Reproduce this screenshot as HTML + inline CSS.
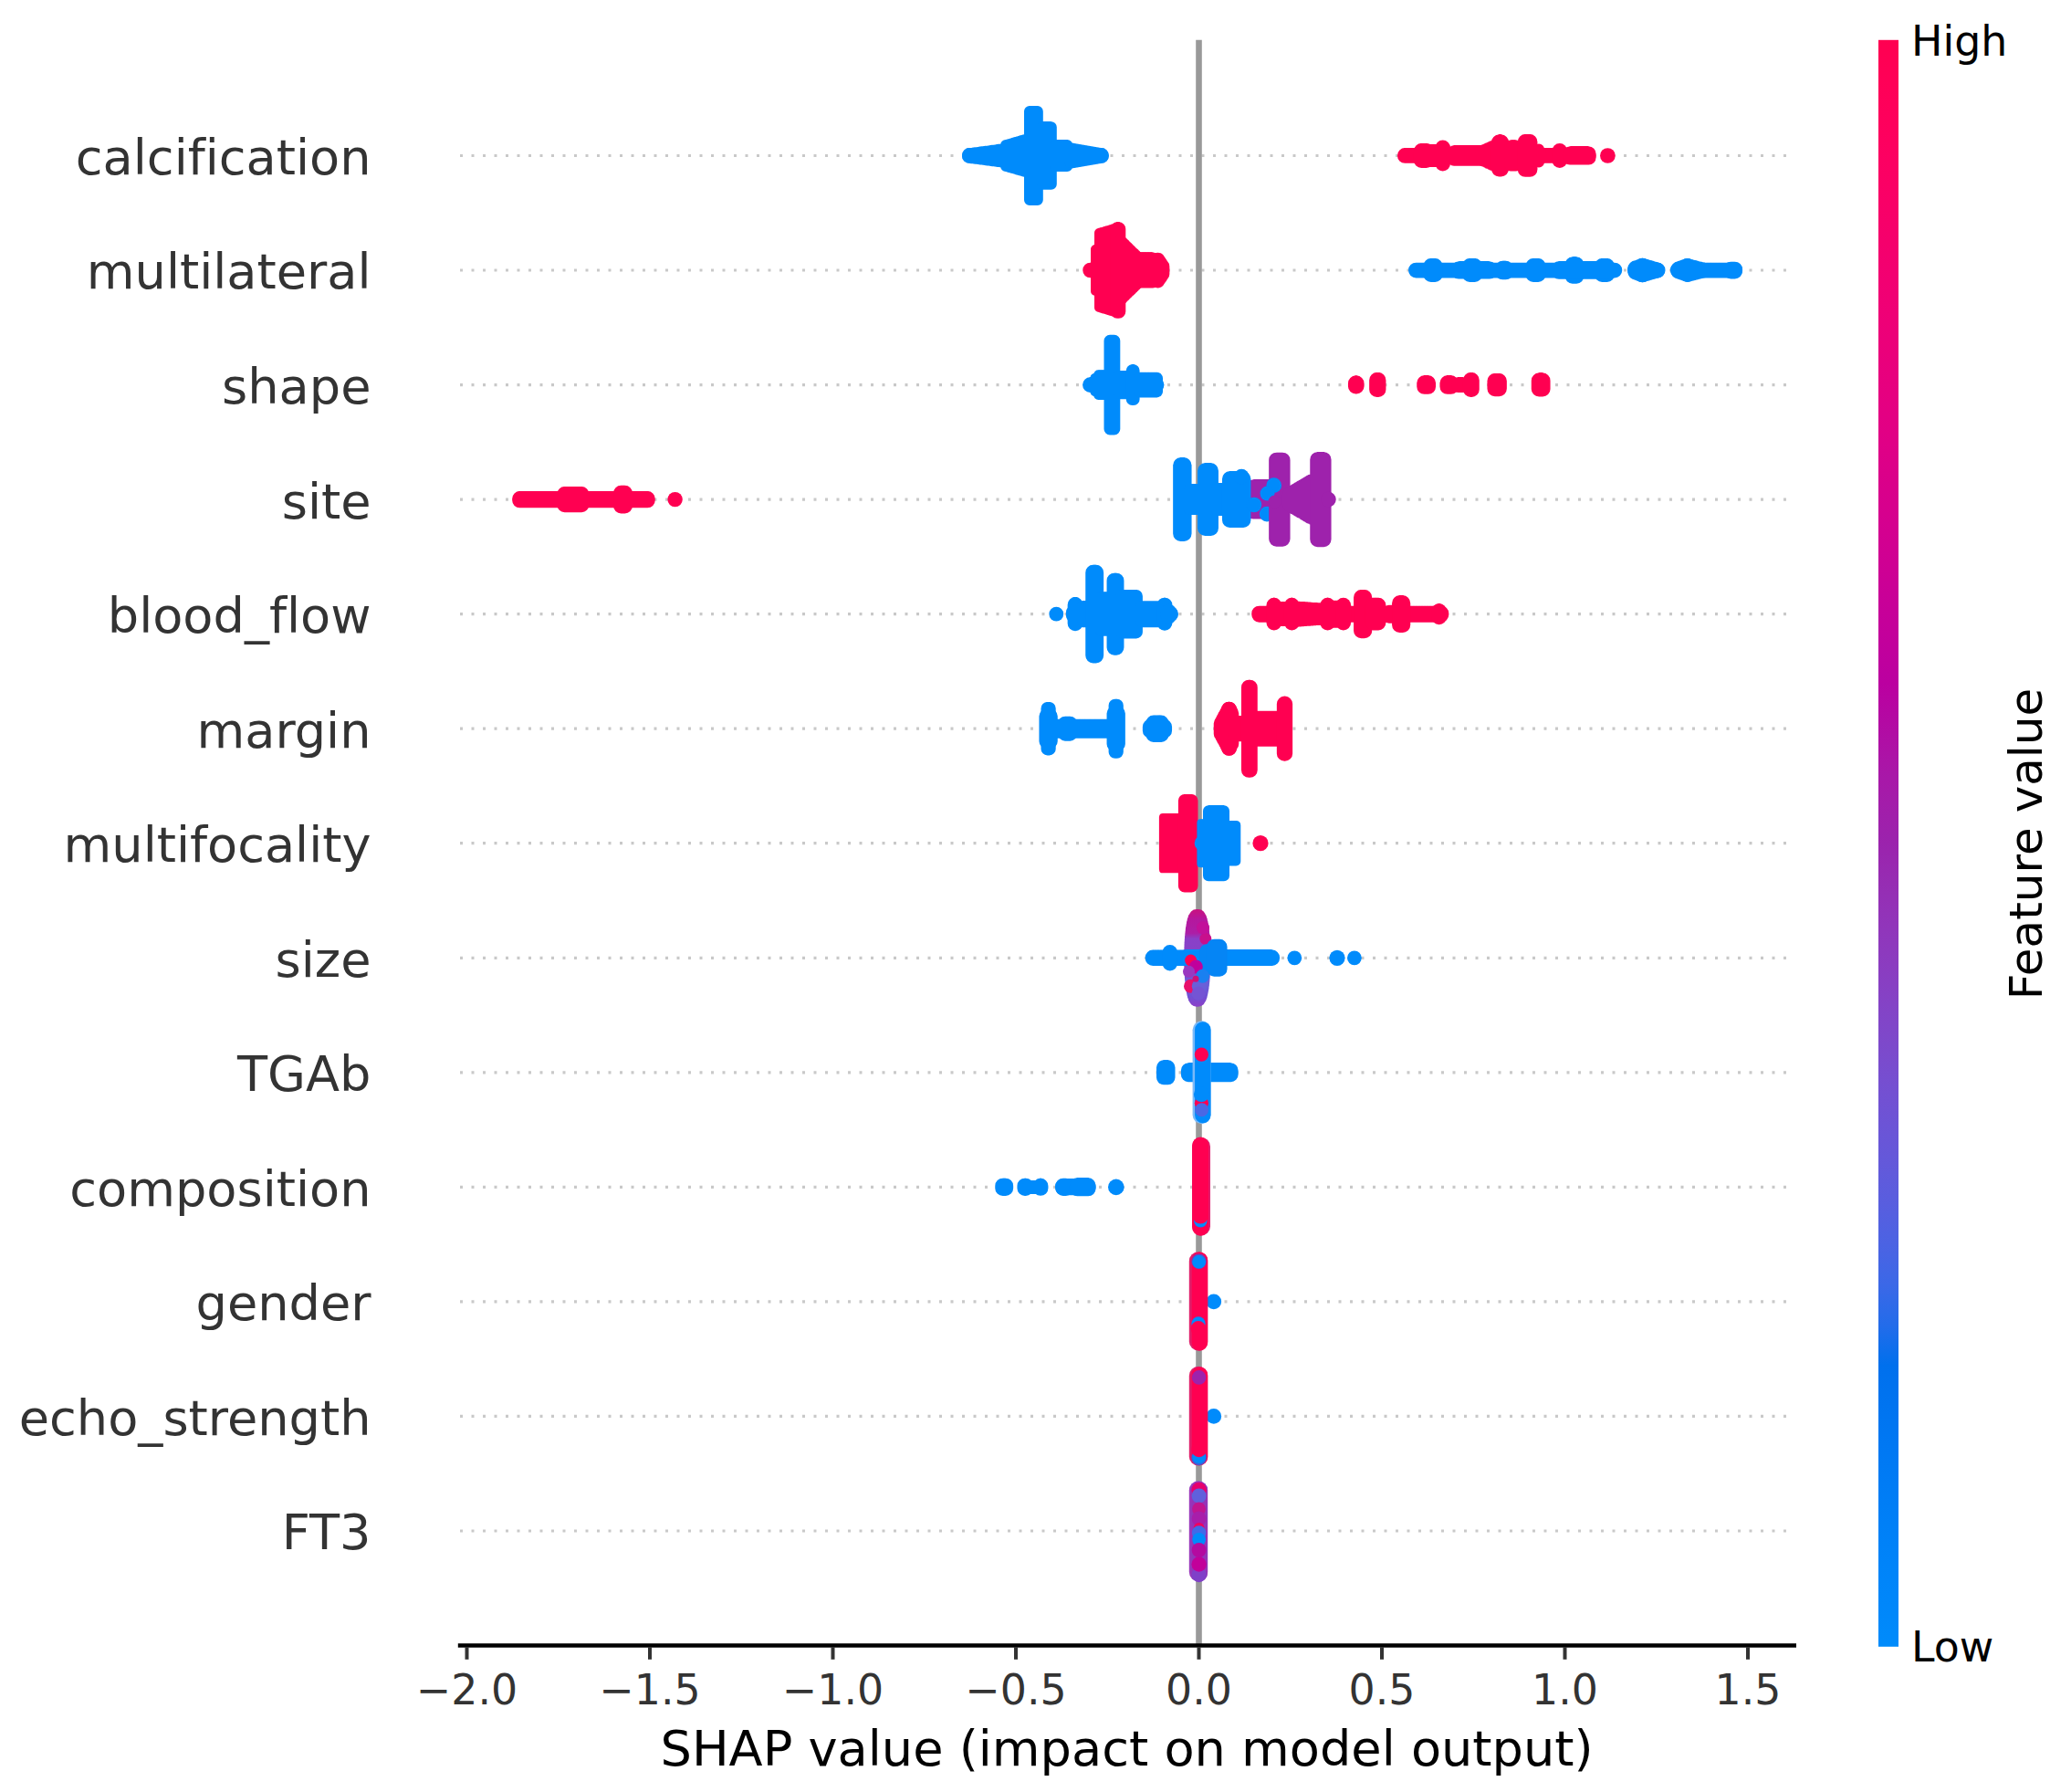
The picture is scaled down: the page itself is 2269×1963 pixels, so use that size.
<!DOCTYPE html>
<html lang="en"><head><meta charset="utf-8"><title>SHAP summary plot</title>
<style>html,body{margin:0;padding:0;background:#fff}svg{display:block}</style></head>
<body>
<svg width="2269" height="1963" viewBox="0 0 2269 1963" font-family="'DejaVu Sans','Liberation Sans',sans-serif" style="font-variant-ligatures:none;font-feature-settings:'liga' 0,'clig' 0">
<rect width="2269" height="1963" fill="#ffffff"/>
<defs><linearGradient id="cb" x1="0" y1="0" x2="0" y2="1"><stop offset="0.0000" stop-color="#ff0051"/><stop offset="0.0250" stop-color="#ff0057"/><stop offset="0.0500" stop-color="#fe005c"/><stop offset="0.0750" stop-color="#fc0062"/><stop offset="0.1000" stop-color="#f90067"/><stop offset="0.1250" stop-color="#f5006c"/><stop offset="0.1500" stop-color="#f20072"/><stop offset="0.1750" stop-color="#ee0077"/><stop offset="0.2000" stop-color="#e9007c"/><stop offset="0.2250" stop-color="#e50081"/><stop offset="0.2500" stop-color="#e00086"/><stop offset="0.2750" stop-color="#da008a"/><stop offset="0.3000" stop-color="#d5008f"/><stop offset="0.3250" stop-color="#cf0093"/><stop offset="0.3500" stop-color="#c80098"/><stop offset="0.3750" stop-color="#c2009c"/><stop offset="0.4000" stop-color="#bb00a0"/><stop offset="0.4250" stop-color="#b30aa3"/><stop offset="0.4500" stop-color="#ab15a7"/><stop offset="0.4750" stop-color="#a31daa"/><stop offset="0.5000" stop-color="#9b23ad"/><stop offset="0.5250" stop-color="#962db3"/><stop offset="0.5500" stop-color="#9135ba"/><stop offset="0.5750" stop-color="#8b3cc0"/><stop offset="0.6000" stop-color="#8443c6"/><stop offset="0.6250" stop-color="#7d49cb"/><stop offset="0.6500" stop-color="#754fd1"/><stop offset="0.6750" stop-color="#6c54d6"/><stop offset="0.7000" stop-color="#6359da"/><stop offset="0.7250" stop-color="#585edf"/><stop offset="0.7500" stop-color="#4b63e3"/><stop offset="0.7750" stop-color="#3b68e7"/><stop offset="0.8000" stop-color="#236cea"/><stop offset="0.8250" stop-color="#0070ed"/><stop offset="0.8500" stop-color="#0074f0"/><stop offset="0.8750" stop-color="#0078f3"/><stop offset="0.9000" stop-color="#007cf5"/><stop offset="0.9250" stop-color="#0080f7"/><stop offset="0.9500" stop-color="#0084f9"/><stop offset="0.9750" stop-color="#0087fa"/><stop offset="1.0000" stop-color="#008bfb"/></linearGradient></defs>
<g stroke="#c9c9c9" stroke-width="3.2" stroke-dasharray="3 9.5" fill="none">
<path d="M504 170.5H1957"/>
<path d="M504 296.0H1957"/>
<path d="M504 421.6H1957"/>
<path d="M504 547.1H1957"/>
<path d="M504 672.7H1957"/>
<path d="M504 798.2H1957"/>
<path d="M504 923.7H1957"/>
<path d="M504 1049.3H1957"/>
<path d="M504 1174.8H1957"/>
<path d="M504 1300.4H1957"/>
<path d="M504 1425.9H1957"/>
<path d="M504 1551.4H1957"/>
<path d="M504 1677.0H1957"/>
</g>
<path d="M1313.5 43.8V1802" stroke="#999999" stroke-width="6.6" fill="none"/>
<g>
<path d="M1062.3 170.4v0.10M1063.8 170.4v0.10M1065.3 170.4v0.10M1066.8 170.4v0.10M1068.3 170.4v0.10M1069.8 170.4v0.10M1071.3 170.4v0.10M1072.7 170.4v0.10M1074.2 170.4v0.10M1075.7 170.4v0.10M1077.2 170.4v0.10M1078.7 170.4v0.10M1080.2 170.4v0.10M1081.7 170.4v0.10M1083.1 170.4v0.10M1084.6 170.4v0.10M1086.1 170.4v0.10M1087.6 170.4v0.10M1089.1 170.4v0.10M1090.6 170.4v0.10M1092.1 170.4v0.10M1093.5 170.4v0.10M1095.0 170.4v0.10M1096.5 170.4v0.10M1098.0 170.4v0.10M1099.5 170.4v0.10M1101.0 170.4v0.10M1102.5 170.4v0.10M1103.9 170.4v0.10M1105.4 170.4v0.10M1106.9 170.4v0.10M1108.4 170.4v0.10M1109.9 170.4v0.10M1111.4 170.4v0.10M1112.9 170.4v0.10M1114.3 170.4v0.10M1115.8 170.4v0.10M1117.3 170.4v0.10M1118.8 170.4v0.10M1120.3 170.4v0.10M1121.8 170.4v0.10M1123.3 170.4v0.10M1124.7 170.4v0.10M1126.2 170.4v0.10M1127.7 170.4v0.10M1129.2 170.4v0.10M1130.7 170.4v0.10M1132.2 170.4v0.10M1133.7 170.4v0.10M1135.1 170.4v0.10M1136.6 170.4v0.10M1138.1 170.4v0.10M1139.6 170.4v0.10M1141.1 170.4v0.10M1142.6 170.4v0.10M1144.1 170.4v0.10M1145.5 170.4v0.10M1147.0 170.4v0.10M1148.5 170.4v0.10M1150.0 170.4v0.10M1151.5 170.4v0.10M1153.0 170.4v0.10M1154.5 170.4v0.10M1155.9 170.4v0.10M1157.4 170.4v0.10M1158.9 170.4v0.10M1160.4 170.4v0.10M1161.9 170.4v0.10M1163.4 170.4v0.10M1164.9 170.4v0.10M1166.3 170.4v0.10M1167.8 170.4v0.10M1169.3 170.4v0.10M1170.8 170.4v0.10M1172.3 170.4v0.10M1173.8 170.4v0.10M1175.3 170.4v0.10M1176.7 170.4v0.10M1178.2 170.4v0.10M1179.7 170.4v0.10M1181.2 170.4v0.10M1182.7 170.4v0.10M1184.2 170.4v0.10M1185.7 170.4v0.10M1187.1 170.4v0.10M1188.6 170.4v0.10M1190.1 170.4v0.10M1191.6 170.4v0.10M1193.1 170.4v0.10M1194.6 170.4v0.10M1196.1 170.4v0.10M1197.5 170.4v0.10M1199.0 170.4v0.10M1200.5 170.4v0.10M1202.0 170.4v0.10M1203.5 170.4v0.10M1205.0 170.4v0.10M1206.5 170.4v0.10" stroke="#008bfb" stroke-width="16.70" stroke-linecap="round" fill="none"/>
<path d="M1062.3 170.4v0.10M1063.8 170.3v0.48M1065.2 170.1v0.87M1066.7 169.9v1.25M1068.1 169.7v1.63M1069.6 169.5v2.01M1071.0 169.3v2.40M1072.5 169.1v2.78M1073.9 168.9v3.16M1075.4 168.7v3.54M1076.8 168.5v3.93M1078.3 168.3v4.31M1079.7 168.2v4.69M1081.2 168.0v5.07M1082.6 167.8v5.46M1084.1 167.6v5.84M1085.5 167.4v6.22M1087.0 167.2v6.60M1088.4 167.0v6.99M1089.9 166.8v7.37M1091.3 166.6v7.75M1092.8 166.4v8.13M1094.2 166.2v8.52M1095.7 166.1v8.90" stroke="#008bfb" stroke-width="16.70" stroke-linecap="round" fill="none"/>
<path d="M1102.0 159.1v22.80M1103.4 158.7v23.63M1104.9 158.3v24.46M1106.3 157.9v25.29M1107.7 157.4v26.11M1109.1 157.0v26.94M1110.6 156.6v27.77M1112.0 156.2v28.60M1113.4 155.8v29.43M1114.9 155.4v30.26M1116.3 155.0v31.09M1117.7 154.5v31.91M1119.1 154.1v32.74M1120.6 153.7v33.57M1122.0 153.3v34.40" stroke="#008bfb" stroke-width="12.00" stroke-linecap="round" fill="none"/>
<path d="M1128.0 121.9v97.20M1129.5 121.9v97.20M1130.9 121.9v97.20M1132.4 121.9v97.20M1133.9 121.9v97.20M1135.3 121.9v97.20M1136.8 121.9v97.20" stroke="#008bfb" stroke-width="12.00" stroke-linecap="round" fill="none"/>
<path d="M1142.0 139.3v62.40M1143.4 139.3v62.40M1144.8 139.3v62.40M1146.2 139.3v62.40M1147.6 139.3v62.40M1149.0 139.3v62.40M1150.4 139.3v62.40M1151.8 139.3v62.40" stroke="#008bfb" stroke-width="12.00" stroke-linecap="round" fill="none"/>
<path d="M1156.0 158.9v23.20M1157.5 158.9v23.20M1158.9 158.9v23.20M1160.4 158.9v23.20M1161.9 158.9v23.20M1163.3 158.9v23.20M1164.8 158.9v23.20M1166.3 158.9v23.20M1167.7 158.9v23.20M1169.2 158.9v23.20" stroke="#008bfb" stroke-width="12.00" stroke-linecap="round" fill="none"/>
<path d="M1174.3 164.8v11.30M1175.8 165.1v10.79M1177.3 165.4v10.28M1178.7 165.6v9.77M1180.2 165.9v9.26M1181.6 166.1v8.75M1183.1 166.4v8.25M1184.6 166.6v7.74M1186.0 166.9v7.23M1187.5 167.1v6.72M1188.9 167.4v6.21M1190.4 167.7v5.70M1191.9 167.9v5.19M1193.3 168.2v4.68M1194.8 168.4v4.17M1196.2 168.7v3.66M1197.7 168.9v3.15M1199.2 169.2v2.65M1200.6 169.4v2.14M1202.1 169.7v1.63M1203.5 169.9v1.12M1205.0 170.2v0.61M1206.5 170.4v0.10" stroke="#008bfb" stroke-width="16.70" stroke-linecap="round" fill="none"/>
<path d="M1539.3 170.4v0.10M1540.8 170.4v0.10M1542.3 170.4v0.10M1543.8 170.4v0.10M1545.3 170.4v0.10M1546.8 170.4v0.10M1548.3 170.4v0.10M1549.8 170.4v0.10M1551.3 170.4v0.10M1552.8 170.4v0.10M1554.3 170.4v0.10M1555.8 170.4v0.10M1557.3 170.4v0.10M1558.8 170.4v0.10M1560.3 170.4v0.10M1561.8 170.4v0.10M1563.3 170.4v0.10M1564.8 170.4v0.10M1566.3 170.4v0.10M1567.8 170.4v0.10M1569.3 170.4v0.10M1570.8 170.4v0.10M1572.3 170.4v0.10M1573.8 170.4v0.10M1575.3 170.4v0.10M1576.8 170.4v0.10M1578.3 170.4v0.10M1579.8 170.4v0.10M1581.3 170.4v0.10M1582.8 170.4v0.10M1584.3 170.4v0.10M1585.8 170.4v0.10M1587.3 170.4v0.10M1588.8 170.4v0.10M1590.3 170.4v0.10M1591.8 170.4v0.10M1593.3 170.4v0.10M1594.8 170.4v0.10M1596.3 170.4v0.10M1597.8 170.4v0.10M1599.3 170.4v0.10M1600.8 170.4v0.10M1602.3 170.4v0.10M1603.8 170.4v0.10M1605.3 170.4v0.10M1606.8 170.4v0.10M1608.3 170.4v0.10M1609.8 170.4v0.10M1611.3 170.4v0.10M1612.8 170.4v0.10M1614.3 170.4v0.10M1615.8 170.4v0.10M1617.3 170.4v0.10M1618.8 170.4v0.10M1620.3 170.4v0.10M1621.8 170.4v0.10M1623.3 170.4v0.10M1624.8 170.4v0.10M1626.3 170.4v0.10M1627.8 170.4v0.10M1629.3 170.4v0.10M1630.8 170.4v0.10M1632.3 170.4v0.10M1633.8 170.4v0.10M1635.3 170.4v0.10M1636.8 170.4v0.10M1638.3 170.4v0.10M1639.8 170.4v0.10M1641.3 170.4v0.10M1642.8 170.4v0.10M1644.3 170.4v0.10M1645.8 170.4v0.10M1647.3 170.4v0.10M1648.8 170.4v0.10M1650.3 170.4v0.10M1651.8 170.4v0.10M1653.3 170.4v0.10M1654.8 170.4v0.10M1656.3 170.4v0.10M1657.8 170.4v0.10M1659.3 170.4v0.10M1660.8 170.4v0.10M1662.3 170.4v0.10M1663.8 170.4v0.10M1665.3 170.4v0.10M1666.8 170.4v0.10M1668.3 170.4v0.10M1669.8 170.4v0.10M1671.3 170.4v0.10M1672.8 170.4v0.10M1674.3 170.4v0.10M1675.8 170.4v0.10M1677.3 170.4v0.10M1678.8 170.4v0.10M1680.3 170.4v0.10M1681.8 170.4v0.10M1683.3 170.4v0.10M1684.8 170.4v0.10M1686.3 170.4v0.10M1687.8 170.4v0.10M1689.3 170.4v0.10M1690.8 170.4v0.10M1692.3 170.4v0.10M1693.8 170.4v0.10M1695.3 170.4v0.10M1696.8 170.4v0.10M1698.3 170.4v0.10M1699.8 170.4v0.10M1701.3 170.4v0.10M1702.8 170.4v0.10M1704.3 170.4v0.10M1705.8 170.4v0.10M1707.3 170.4v0.10M1708.8 170.4v0.10M1710.3 170.4v0.10M1711.8 170.4v0.10M1713.3 170.4v0.10M1714.8 170.4v0.10M1716.3 170.4v0.10M1717.8 170.4v0.10M1719.3 170.4v0.10M1720.8 170.4v0.10M1722.3 170.4v0.10M1723.8 170.4v0.10M1725.3 170.4v0.10M1726.8 170.4v0.10M1728.3 170.4v0.10M1729.8 170.4v0.10M1731.3 170.4v0.10M1732.8 170.4v0.10M1734.3 170.4v0.10M1735.8 170.4v0.10M1737.3 170.4v0.10M1738.8 170.4v0.10M1740.2 170.4v0.10" stroke="#ff0051" stroke-width="16.70" stroke-linecap="round" fill="none"/>
<path d="M1557.3 165.3v10.30M1558.7 165.3v10.30M1560.0 165.3v10.30M1561.3 165.3v10.30M1562.7 165.3v10.30" stroke="#ff0051" stroke-width="16.70" stroke-linecap="round" fill="none"/>
<path d="M1580.7 161.8v17.30" stroke="#ff0051" stroke-width="16.70" stroke-linecap="round" fill="none"/>
<path d="M1565.0 165.0v11.00M1566.5 165.0v11.00M1568.0 165.0v11.00M1569.5 165.0v11.00M1571.0 165.0v11.00M1572.5 165.0v11.00M1574.0 165.0v11.00M1575.5 165.0v11.00M1577.0 165.0v11.00" stroke="#ff0051" stroke-width="14.00" stroke-linecap="round" fill="none"/>
<path d="M1593.0 166.2v8.60M1594.5 166.2v8.60M1596.0 166.2v8.60M1597.5 166.2v8.60M1599.0 166.2v8.60M1600.5 166.2v8.60M1602.0 166.2v8.60M1603.5 166.2v8.60M1605.0 166.2v8.60M1606.5 166.2v8.60M1608.0 166.2v8.60M1609.5 166.2v8.60M1611.0 166.2v8.60M1612.5 166.2v8.60M1614.0 166.2v8.60M1615.5 166.2v8.60M1617.0 166.2v8.60M1618.5 166.2v8.60M1620.0 166.2v8.60M1621.5 166.2v8.60M1623.0 166.2v8.60M1624.5 166.2v8.60M1626.0 166.2v8.60M1627.5 166.2v8.60M1629.0 166.2v8.60" stroke="#ff0051" stroke-width="14.00" stroke-linecap="round" fill="none"/>
<path d="M1623.0 166.5v8.00M1624.5 165.8v9.38M1626.0 165.1v10.75M1627.5 164.4v12.12M1629.0 163.8v13.50M1630.5 163.1v14.88M1632.0 162.4v16.25M1633.5 161.7v17.62M1635.0 161.0v19.00" stroke="#ff0051" stroke-width="14.00" stroke-linecap="round" fill="none"/>
<path d="M1642.3 155.8v29.30M1643.5 155.8v29.30M1644.7 155.8v29.30" stroke="#ff0051" stroke-width="16.70" stroke-linecap="round" fill="none"/>
<path d="M1655.0 160.5v20.00M1656.5 160.5v20.00M1658.0 160.5v20.00M1659.5 160.5v20.00M1661.0 160.5v20.00" stroke="#ff0051" stroke-width="14.00" stroke-linecap="round" fill="none"/>
<path d="M1671.1 155.4v30.10M1672.4 155.4v30.10M1673.6 155.4v30.10M1674.8 155.4v30.10M1676.1 155.4v30.10" stroke="#ff0051" stroke-width="16.70" stroke-linecap="round" fill="none"/>
<path d="M1686.0 163.5v14.00M1687.0 165.5v10.00M1688.0 167.5v6.00" stroke="#ff0051" stroke-width="12.00" stroke-linecap="round" fill="none"/>
<path d="M1708.8 165.3v10.30" stroke="#ff0051" stroke-width="16.70" stroke-linecap="round" fill="none"/>
<path d="M1720.0 168.5v4.00M1721.5 168.5v4.00M1722.9 168.5v4.00M1724.4 168.5v4.00M1725.9 168.5v4.00M1727.4 168.5v4.00M1728.8 168.5v4.00M1730.3 168.5v4.00M1731.8 168.5v4.00M1733.2 168.5v4.00M1734.7 168.5v4.00M1736.2 168.5v4.00M1737.7 168.5v4.00M1739.1 168.5v4.00M1740.6 168.5v4.00" stroke="#ff0051" stroke-width="16.00" stroke-linecap="round" fill="none"/>
<circle cx="1761.4" cy="170.5" r="8.35" fill="#ff0051"/>
<path d="M1194.6 296.0v0.01M1195.6 296.0v0.01M1196.7 296.0v0.01M1197.7 296.0v0.01" stroke="#ff0051" stroke-width="16.70" stroke-linecap="round" fill="none"/>
<path d="M1200.0 273.1v45.80M1201.4 273.1v45.80M1202.9 273.1v45.80M1204.3 273.1v45.80M1205.7 273.1v45.80M1207.1 273.1v45.80M1208.6 273.1v45.80M1210.0 273.1v45.80" stroke="#ff0051" stroke-width="10.00" stroke-linecap="round" fill="none"/>
<path d="M1204.0 255.0v82.00M1205.5 254.6v82.90M1207.0 254.1v83.80M1208.5 253.7v84.70M1210.0 253.2v85.60M1211.5 252.8v86.50M1213.0 252.3v87.40M1214.5 251.9v88.30M1216.0 251.4v89.20M1217.5 251.0v90.10M1219.0 250.5v91.00" stroke="#ff0051" stroke-width="10.00" stroke-linecap="round" fill="none"/>
<path d="M1224.0 250.7v90.60M1224.9 250.7v90.60M1225.8 250.7v90.60" stroke="#ff0051" stroke-width="15.00" stroke-linecap="round" fill="none"/>
<path d="M1227.0 261.0v70.00M1228.5 262.5v67.07M1230.0 264.0v64.14M1231.5 265.4v61.21M1233.0 266.9v58.29M1234.5 268.4v55.36M1236.0 269.8v52.43M1237.5 271.3v49.50M1239.0 272.8v46.57M1240.5 274.2v43.64M1242.0 275.7v40.71M1243.5 277.1v37.79M1245.0 278.6v34.86M1246.5 280.1v31.93M1248.0 281.5v29.00" stroke="#ff0051" stroke-width="10.00" stroke-linecap="round" fill="none"/>
<path d="M1247.0 283.5v25.00M1248.5 283.5v25.00M1249.9 283.5v25.00M1251.4 283.5v25.00M1252.8 283.5v25.00M1254.3 283.5v25.00M1255.7 283.5v25.00M1257.2 283.5v25.00M1258.6 283.5v25.00M1260.1 283.5v25.00M1261.5 283.5v25.00M1263.0 283.5v25.00" stroke="#ff0051" stroke-width="14.00" stroke-linecap="round" fill="none"/>
<path d="M1268.3 285.0v22.10M1269.5 286.7v18.65M1270.7 288.4v15.20M1271.8 290.2v11.75M1273.0 291.9v8.30" stroke="#ff0051" stroke-width="16.70" stroke-linecap="round" fill="none"/>
<path d="M1551.4 296.0v0.10M1552.9 296.0v0.10M1554.4 296.0v0.10M1555.9 296.0v0.10M1557.4 296.0v0.10M1558.9 296.0v0.10M1560.4 296.0v0.10M1561.9 296.0v0.10M1563.4 296.0v0.10M1564.9 296.0v0.10M1566.4 296.0v0.10M1567.9 296.0v0.10M1569.4 296.0v0.10M1570.9 296.0v0.10M1572.4 296.0v0.10M1573.9 296.0v0.10M1575.4 296.0v0.10M1576.9 296.0v0.10M1578.4 296.0v0.10M1579.9 296.0v0.10M1581.4 296.0v0.10M1582.9 296.0v0.10M1584.4 296.0v0.10M1585.9 296.0v0.10M1587.4 296.0v0.10M1588.9 296.0v0.10M1590.4 296.0v0.10M1591.9 296.0v0.10M1593.4 296.0v0.10M1594.9 296.0v0.10M1596.4 296.0v0.10M1597.9 296.0v0.10M1599.4 296.0v0.10M1600.9 296.0v0.10M1602.4 296.0v0.10M1603.9 296.0v0.10M1605.4 296.0v0.10M1606.9 296.0v0.10M1608.4 296.0v0.10M1609.9 296.0v0.10M1611.4 296.0v0.10M1612.9 296.0v0.10M1614.4 296.0v0.10M1615.9 296.0v0.10M1617.4 296.0v0.10M1618.9 296.0v0.10M1620.4 296.0v0.10M1621.9 296.0v0.10M1623.4 296.0v0.10M1624.9 296.0v0.10M1626.4 296.0v0.10M1627.9 296.0v0.10M1629.4 296.0v0.10M1630.9 296.0v0.10M1632.4 296.0v0.10M1633.9 296.0v0.10M1635.4 296.0v0.10M1636.9 296.0v0.10M1638.4 296.0v0.10M1639.9 296.0v0.10M1641.4 296.0v0.10M1642.9 296.0v0.10M1644.4 296.0v0.10M1645.9 296.0v0.10M1647.4 296.0v0.10M1648.9 296.0v0.10M1650.4 296.0v0.10M1651.9 296.0v0.10M1653.4 296.0v0.10M1654.9 296.0v0.10M1656.4 296.0v0.10M1657.9 296.0v0.10M1659.4 296.0v0.10M1660.9 296.0v0.10M1662.4 296.0v0.10M1663.9 296.0v0.10M1665.4 296.0v0.10M1666.9 296.0v0.10M1668.4 296.0v0.10M1669.9 296.0v0.10M1671.4 296.0v0.10M1672.9 296.0v0.10M1674.4 296.0v0.10M1675.9 296.0v0.10M1677.4 296.0v0.10M1678.9 296.0v0.10M1680.4 296.0v0.10M1681.9 296.0v0.10M1683.4 296.0v0.10M1684.9 296.0v0.10M1686.4 296.0v0.10M1687.9 296.0v0.10M1689.4 296.0v0.10M1690.9 296.0v0.10M1692.4 296.0v0.10M1693.9 296.0v0.10M1695.4 296.0v0.10M1696.9 296.0v0.10M1698.4 296.0v0.10M1699.9 296.0v0.10M1701.4 296.0v0.10M1702.9 296.0v0.10M1704.4 296.0v0.10M1705.9 296.0v0.10M1707.4 296.0v0.10M1708.9 296.0v0.10M1710.4 296.0v0.10M1711.9 296.0v0.10M1713.4 296.0v0.10M1714.9 296.0v0.10M1716.4 296.0v0.10M1717.9 296.0v0.10M1719.4 296.0v0.10M1720.9 296.0v0.10M1722.4 296.0v0.10M1723.9 296.0v0.10M1725.4 296.0v0.10M1726.9 296.0v0.10M1728.4 296.0v0.10M1729.9 296.0v0.10M1731.4 296.0v0.10M1732.9 296.0v0.10M1734.4 296.0v0.10M1735.9 296.0v0.10M1737.4 296.0v0.10M1738.9 296.0v0.10M1740.4 296.0v0.10M1741.9 296.0v0.10M1743.4 296.0v0.10M1744.9 296.0v0.10M1746.4 296.0v0.10M1747.9 296.0v0.10M1749.4 296.0v0.10M1750.9 296.0v0.10M1752.4 296.0v0.10M1753.9 296.0v0.10M1755.4 296.0v0.10M1756.9 296.0v0.10M1758.4 296.0v0.10M1759.9 296.0v0.10M1761.4 296.0v0.10M1762.9 296.0v0.10M1764.4 296.0v0.10M1765.9 296.0v0.10M1767.4 296.0v0.10M1768.9 296.0v0.10" stroke="#008bfb" stroke-width="16.70" stroke-linecap="round" fill="none"/>
<path d="M1567.8 291.4v9.30M1569.3 291.4v9.30M1570.7 291.4v9.30M1572.2 291.4v9.30" stroke="#008bfb" stroke-width="16.70" stroke-linecap="round" fill="none"/>
<path d="M1610.3 291.4v9.30M1611.7 291.4v9.30M1613.0 291.4v9.30M1614.3 291.4v9.30M1615.7 291.4v9.30" stroke="#008bfb" stroke-width="16.70" stroke-linecap="round" fill="none"/>
<path d="M1646.3 294.1v3.90M1647.5 294.1v3.90M1648.5 294.1v3.90M1649.7 294.1v3.90" stroke="#008bfb" stroke-width="16.70" stroke-linecap="round" fill="none"/>
<path d="M1679.9 291.4v9.30M1681.3 291.4v9.30M1682.6 291.4v9.30M1683.9 291.4v9.30M1685.2 291.4v9.30" stroke="#008bfb" stroke-width="16.70" stroke-linecap="round" fill="none"/>
<path d="M1722.8 289.8v12.50M1724.3 289.8v12.50M1725.7 289.8v12.50M1727.2 289.8v12.50" stroke="#008bfb" stroke-width="16.70" stroke-linecap="round" fill="none"/>
<path d="M1755.3 291.4v9.30M1756.7 291.4v9.30M1758.0 291.4v9.30M1759.3 291.4v9.30M1760.7 291.4v9.30" stroke="#008bfb" stroke-width="16.70" stroke-linecap="round" fill="none"/>
<path d="M1598.0 294.4v3.20M1599.5 294.4v3.20M1601.0 294.4v3.20M1602.4 294.4v3.20M1603.9 294.4v3.20M1605.4 294.4v3.20M1606.9 294.4v3.20M1608.3 294.4v3.20M1609.8 294.4v3.20M1611.3 294.4v3.20M1612.8 294.4v3.20M1614.3 294.4v3.20M1615.7 294.4v3.20M1617.2 294.4v3.20M1618.7 294.4v3.20M1620.2 294.4v3.20M1621.7 294.4v3.20M1623.1 294.4v3.20M1624.6 294.4v3.20M1626.1 294.4v3.20M1627.6 294.4v3.20M1629.0 294.4v3.20M1630.5 294.4v3.20M1632.0 294.4v3.20" stroke="#008bfb" stroke-width="16.00" stroke-linecap="round" fill="none"/>
<path d="M1708.0 294.2v3.60M1709.5 294.2v3.60M1711.0 294.2v3.60M1712.5 294.2v3.60M1714.0 294.2v3.60M1715.5 294.2v3.60M1717.0 294.2v3.60M1718.5 294.2v3.60M1720.0 294.2v3.60M1721.5 294.2v3.60M1723.0 294.2v3.60M1724.5 294.2v3.60M1726.0 294.2v3.60M1727.5 294.2v3.60M1729.0 294.2v3.60M1730.5 294.2v3.60M1732.0 294.2v3.60M1733.5 294.2v3.60M1735.0 294.2v3.60M1736.5 294.2v3.60M1738.0 294.2v3.60M1739.5 294.2v3.60M1741.0 294.2v3.60M1742.5 294.2v3.60M1744.0 294.2v3.60M1745.5 294.2v3.60M1747.0 294.2v3.60M1748.5 294.2v3.60M1750.0 294.2v3.60M1751.5 294.2v3.60M1753.0 294.2v3.60M1754.5 294.2v3.60M1756.0 294.2v3.60M1757.5 294.2v3.60M1759.0 294.2v3.60M1760.5 294.2v3.60M1762.0 294.2v3.60" stroke="#008bfb" stroke-width="16.00" stroke-linecap="round" fill="none"/>
<path d="M1791.3 296.0v0.10M1792.8 296.0v0.10M1794.3 296.0v0.10M1795.7 296.0v0.10M1797.2 296.0v0.10M1798.6 296.0v0.10M1800.1 296.0v0.10M1801.6 296.0v0.10M1803.0 296.0v0.10M1804.5 296.0v0.10M1805.9 296.0v0.10M1807.4 296.0v0.10M1808.9 296.0v0.10M1810.3 296.0v0.10M1811.8 296.0v0.10M1813.2 296.0v0.10M1814.7 296.0v0.10M1816.2 296.0v0.10" stroke="#008bfb" stroke-width="16.70" stroke-linecap="round" fill="none"/>
<path d="M1791.8 293.9v4.30M1793.1 293.4v5.23M1794.5 293.0v6.17M1795.8 292.5v7.10M1797.0 292.0v8.03M1798.4 291.6v8.97M1799.7 291.1v9.90" stroke="#008bfb" stroke-width="16.70" stroke-linecap="round" fill="none"/>
<path d="M1799.3 291.1v9.90M1800.8 291.5v9.05M1802.3 291.9v8.19M1803.8 292.4v7.34M1805.3 292.8v6.48M1806.8 293.2v5.63M1808.2 293.7v4.77M1809.7 294.1v3.92M1811.2 294.5v3.06M1812.7 294.9v2.21M1814.2 295.4v1.35M1815.7 295.8v0.50" stroke="#008bfb" stroke-width="16.70" stroke-linecap="round" fill="none"/>
<path d="M1838.3 296.0v0.10M1839.8 296.0v0.10M1841.3 296.0v0.10M1842.8 296.0v0.10M1844.3 296.0v0.10M1845.8 296.0v0.10M1847.2 296.0v0.10M1848.7 296.0v0.10M1850.2 296.0v0.10M1851.7 296.0v0.10M1853.2 296.0v0.10M1854.7 296.0v0.10M1856.1 296.0v0.10M1857.6 296.0v0.10M1859.1 296.0v0.10M1860.6 296.0v0.10M1862.1 296.0v0.10M1863.6 296.0v0.10M1865.0 296.0v0.10M1866.5 296.0v0.10M1868.0 296.0v0.10M1869.5 296.0v0.10M1871.0 296.0v0.10M1872.5 296.0v0.10M1874.0 296.0v0.10M1875.4 296.0v0.10M1876.9 296.0v0.10M1878.4 296.0v0.10M1879.9 296.0v0.10M1881.4 296.0v0.10M1882.9 296.0v0.10M1884.3 296.0v0.10M1885.8 296.0v0.10M1887.3 296.0v0.10M1888.8 296.0v0.10M1890.3 296.0v0.10M1891.8 296.0v0.10M1893.2 296.0v0.10M1894.7 296.0v0.10M1896.2 296.0v0.10M1897.7 296.0v0.10M1899.2 296.0v0.10M1900.7 296.0v0.10" stroke="#008bfb" stroke-width="16.70" stroke-linecap="round" fill="none"/>
<path d="M1838.8 294.9v2.30M1840.2 294.4v3.30M1841.6 293.9v4.30M1843.0 293.4v5.30M1844.5 292.9v6.30M1845.9 292.4v7.30M1847.2 291.9v8.30M1848.7 291.4v9.30" stroke="#008bfb" stroke-width="16.70" stroke-linecap="round" fill="none"/>
<path d="M1848.8 291.4v9.30M1850.2 291.8v8.57M1851.6 292.1v7.83M1853.0 292.5v7.10M1854.4 292.9v6.37M1855.8 293.2v5.63M1857.2 293.6v4.90M1858.6 294.0v4.17M1860.0 294.3v3.43M1861.4 294.7v2.70M1862.8 295.1v1.97M1864.2 295.4v1.23M1865.7 295.8v0.50" stroke="#008bfb" stroke-width="16.70" stroke-linecap="round" fill="none"/>
<path d="M1896.3 295.0v2.10M1897.8 295.0v2.10M1899.2 295.0v2.10M1900.7 295.0v2.10" stroke="#008bfb" stroke-width="16.70" stroke-linecap="round" fill="none"/>
<path d="M1194.4 421.6v0.01M1195.9 421.6v0.01M1197.4 421.6v0.01M1198.9 421.6v0.01M1200.4 421.6v0.01M1201.9 421.6v0.01M1203.3 421.6v0.01M1204.8 421.6v0.01M1206.3 421.6v0.01M1207.8 421.6v0.01M1209.3 421.6v0.01M1210.7 421.6v0.01M1212.2 421.6v0.01M1213.7 421.6v0.01M1215.2 421.6v0.01M1216.7 421.6v0.01M1218.2 421.6v0.01M1219.6 421.6v0.01M1221.1 421.6v0.01M1222.6 421.6v0.01M1224.1 421.6v0.01M1225.6 421.6v0.01M1227.0 421.6v0.01M1228.5 421.6v0.01M1230.0 421.6v0.01M1231.5 421.6v0.01M1233.0 421.6v0.01M1234.5 421.6v0.01M1235.9 421.6v0.01M1237.4 421.6v0.01M1238.9 421.6v0.01M1240.4 421.6v0.01M1241.9 421.6v0.01M1243.3 421.6v0.01M1244.8 421.6v0.01M1246.3 421.6v0.01M1247.8 421.6v0.01M1249.3 421.6v0.01M1250.8 421.6v0.01M1252.2 421.6v0.01M1253.7 421.6v0.01M1255.2 421.6v0.01M1256.7 421.6v0.01M1258.2 421.6v0.01M1259.6 421.6v0.01M1261.1 421.6v0.01M1262.6 421.6v0.01M1264.1 421.6v0.01M1265.6 421.6v0.01M1267.1 421.6v0.01" stroke="#008bfb" stroke-width="16.70" stroke-linecap="round" fill="none"/>
<path d="M1199.5 413.9v15.40M1201.0 413.9v15.40M1202.5 413.9v15.40M1204.0 413.9v15.40M1205.5 413.9v15.40M1207.0 413.9v15.40M1208.5 413.9v15.40M1210.0 413.9v15.40" stroke="#008bfb" stroke-width="10.00" stroke-linecap="round" fill="none"/>
<path d="M1203.3 410.3v22.60M1204.6 410.3v22.60M1206.0 410.3v22.60M1207.3 410.3v22.60M1208.7 410.3v22.60M1210.0 410.3v22.60" stroke="#008bfb" stroke-width="10.00" stroke-linecap="round" fill="none"/>
<path d="M1216.0 373.3v96.60M1217.2 373.3v96.60M1218.4 373.3v96.60M1219.6 373.3v96.60M1220.8 373.3v96.60" stroke="#008bfb" stroke-width="13.00" stroke-linecap="round" fill="none"/>
<path d="M1225.0 411.0v21.20M1226.4 411.0v21.20M1227.9 411.0v21.20M1229.3 411.0v21.20M1230.7 411.0v21.20M1232.1 411.0v21.20M1233.6 411.0v21.20M1235.0 411.0v21.20" stroke="#008bfb" stroke-width="10.00" stroke-linecap="round" fill="none"/>
<path d="M1240.3 405.8v31.60M1241.2 405.8v31.60M1242.1 405.8v31.60" stroke="#008bfb" stroke-width="13.00" stroke-linecap="round" fill="none"/>
<path d="M1248.5 414.3v14.60M1250.0 414.3v14.60M1251.4 414.3v14.60M1252.9 414.3v14.60M1254.3 414.3v14.60M1255.8 414.3v14.60M1257.3 414.3v14.60M1258.7 414.3v14.60M1260.2 414.3v14.60M1261.7 414.3v14.60M1263.1 414.3v14.60M1264.6 414.3v14.60M1266.0 414.3v14.60M1267.5 414.3v14.60" stroke="#008bfb" stroke-width="13.00" stroke-linecap="round" fill="none"/>
<path d="M1485.3 419.9v3.30M1486.2 419.9v3.30" stroke="#ff0051" stroke-width="16.70" stroke-linecap="round" fill="none"/>
<path d="M1508.5 416.4v10.30M1509.3 416.4v10.30M1510.1 416.4v10.30" stroke="#ff0051" stroke-width="16.70" stroke-linecap="round" fill="none"/>
<path d="M1560.6 419.6v3.90M1562.0 419.6v3.90M1563.3 419.6v3.90M1564.7 419.6v3.90" stroke="#ff0051" stroke-width="16.70" stroke-linecap="round" fill="none"/>
<path d="M1585.8 419.6v3.90M1587.1 419.6v3.90M1588.4 419.6v3.90M1589.7 419.6v3.90" stroke="#ff0051" stroke-width="16.70" stroke-linecap="round" fill="none"/>
<path d="M1597.5 420.7v1.80M1598.8 420.7v1.80M1600.0 420.7v1.80M1601.2 420.7v1.80M1602.5 420.7v1.80" stroke="#ff0051" stroke-width="15.00" stroke-linecap="round" fill="none"/>
<path d="M1611.3 416.4v10.30M1612.4 416.4v10.30" stroke="#ff0051" stroke-width="16.70" stroke-linecap="round" fill="none"/>
<path d="M1637.8 417.3v8.50M1639.0 417.3v8.50M1640.2 417.3v8.50M1641.3 417.3v8.50M1642.5 417.3v8.50" stroke="#ff0051" stroke-width="16.70" stroke-linecap="round" fill="none"/>
<path d="M1686.1 416.9v9.30M1687.5 416.9v9.30M1688.8 416.9v9.30M1690.2 416.9v9.30" stroke="#ff0051" stroke-width="16.70" stroke-linecap="round" fill="none"/>
<path d="M569.5 546.3v1.70M570.9 546.3v1.70M572.4 546.3v1.70M573.9 546.3v1.70M575.4 546.3v1.70M576.9 546.3v1.70M578.4 546.3v1.70M579.9 546.3v1.70M581.4 546.3v1.70M582.8 546.3v1.70M584.3 546.3v1.70M585.8 546.3v1.70M587.3 546.3v1.70M588.8 546.3v1.70M590.3 546.3v1.70M591.8 546.3v1.70M593.3 546.3v1.70M594.8 546.3v1.70M596.2 546.3v1.70M597.7 546.3v1.70M599.2 546.3v1.70M600.7 546.3v1.70M602.2 546.3v1.70M603.7 546.3v1.70M605.2 546.3v1.70M606.7 546.3v1.70M608.1 546.3v1.70M609.6 546.3v1.70M611.1 546.3v1.70M612.6 546.3v1.70M614.1 546.3v1.70M615.6 546.3v1.70M617.1 546.3v1.70M618.6 546.3v1.70M620.1 546.3v1.70M621.5 546.3v1.70M623.0 546.3v1.70M624.5 546.3v1.70M626.0 546.3v1.70M627.5 546.3v1.70M629.0 546.3v1.70M630.5 546.3v1.70M632.0 546.3v1.70M633.4 546.3v1.70M634.9 546.3v1.70M636.4 546.3v1.70M637.9 546.3v1.70M639.4 546.3v1.70M640.9 546.3v1.70M642.4 546.3v1.70M643.9 546.3v1.70M645.4 546.3v1.70M646.8 546.3v1.70M648.3 546.3v1.70M649.8 546.3v1.70M651.3 546.3v1.70M652.8 546.3v1.70M654.3 546.3v1.70M655.8 546.3v1.70M657.3 546.3v1.70M658.7 546.3v1.70M660.2 546.3v1.70M661.7 546.3v1.70M663.2 546.3v1.70M664.7 546.3v1.70M666.2 546.3v1.70M667.7 546.3v1.70M669.2 546.3v1.70M670.7 546.3v1.70M672.1 546.3v1.70M673.6 546.3v1.70M675.1 546.3v1.70M676.6 546.3v1.70M678.1 546.3v1.70M679.6 546.3v1.70M681.1 546.3v1.70M682.6 546.3v1.70M684.0 546.3v1.70M685.5 546.3v1.70M687.0 546.3v1.70M688.5 546.3v1.70M690.0 546.3v1.70M691.5 546.3v1.70M693.0 546.3v1.70M694.5 546.3v1.70M696.0 546.3v1.70M697.4 546.3v1.70M698.9 546.3v1.70M700.4 546.3v1.70M701.9 546.3v1.70M703.4 546.3v1.70M704.9 546.3v1.70M706.4 546.3v1.70M707.9 546.3v1.70M709.4 546.3v1.70" stroke="#ff0051" stroke-width="16.70" stroke-linecap="round" fill="none"/>
<path d="M618.6 541.4v11.50M620.1 541.4v11.50M621.5 541.4v11.50M622.9 541.4v11.50M624.3 541.4v11.50M625.8 541.4v11.50M627.2 541.4v11.50M628.6 541.4v11.50M630.0 541.4v11.50M631.5 541.4v11.50M632.9 541.4v11.50M634.3 541.4v11.50M635.7 541.4v11.50M637.1 541.4v11.50" stroke="#ff0051" stroke-width="16.70" stroke-linecap="round" fill="none"/>
<path d="M680.4 540.1v14.10M681.8 540.1v14.10M683.2 540.1v14.10M684.6 540.1v14.10" stroke="#ff0051" stroke-width="16.70" stroke-linecap="round" fill="none"/>
<circle cx="739.6" cy="547.1" r="8.20" fill="#ff0051"/>
<path d="M1293.5 509.7v74.90M1294.8 509.7v74.90M1296.0 509.7v74.90M1297.2 509.7v74.90" stroke="#008bfb" stroke-width="16.70" stroke-linecap="round" fill="none"/>
<path d="M1303.0 536.1v22.00M1304.4 536.1v22.00M1305.9 536.1v22.00M1307.3 536.1v22.00M1308.8 536.1v22.00M1310.2 536.1v22.00M1311.7 536.1v22.00M1313.1 536.1v22.00M1314.6 536.1v22.00M1316.0 536.1v22.00" stroke="#008bfb" stroke-width="12.00" stroke-linecap="round" fill="none"/>
<path d="M1320.4 515.7v62.90M1321.7 515.7v62.90M1322.9 515.7v62.90M1324.1 515.7v62.90M1325.3 515.7v62.90M1326.6 515.7v62.90" stroke="#008bfb" stroke-width="16.70" stroke-linecap="round" fill="none"/>
<path d="M1333.0 535.1v24.00M1334.5 535.1v24.00M1336.0 535.1v24.00M1337.5 535.1v24.00M1339.0 535.1v24.00M1340.5 535.1v24.00M1342.0 535.1v24.00" stroke="#008bfb" stroke-width="12.00" stroke-linecap="round" fill="none"/>
<path d="M1373.0 533.6v27.00M1374.5 533.6v27.00M1375.9 533.6v27.00M1377.4 533.6v27.00M1378.8 533.6v27.00M1380.3 533.6v27.00M1381.8 533.6v27.00M1383.2 533.6v27.00M1384.7 533.6v27.00M1386.2 533.6v27.00M1387.6 533.6v27.00M1389.1 533.6v27.00M1390.5 533.6v27.00M1392.0 533.6v27.00" stroke="#9e22ac" stroke-width="16.00" stroke-linecap="round" fill="none"/>
<path d="M1347.3 524.7v44.90M1348.8 524.7v44.90M1350.3 524.7v44.90M1351.8 524.7v44.90M1353.2 524.7v44.90M1354.7 524.7v44.90M1356.2 524.7v44.90M1357.6 524.7v44.90M1359.1 524.7v44.90M1360.6 524.7v44.90M1362.1 524.7v44.90" stroke="#008bfb" stroke-width="16.70" stroke-linecap="round" fill="none"/>
<circle cx="1360.2" cy="522.2" r="8.35" fill="#008bfb"/>
<circle cx="1373.9" cy="553.0" r="8.35" fill="#008bfb"/>
<circle cx="1388.1" cy="563.1" r="8.35" fill="#008bfb"/>
<path d="M1398.5 504.0v86.30M1399.9 504.0v86.30M1401.2 504.0v86.30M1402.5 504.0v86.30M1403.8 504.0v86.30M1405.2 504.0v86.30" stroke="#9e22ac" stroke-width="16.70" stroke-linecap="round" fill="none"/>
<path d="M1413.3 541.6v11.10M1414.8 540.7v12.81M1416.3 539.9v14.53M1417.7 539.0v16.24M1419.2 538.1v17.95M1420.6 537.3v19.66M1422.1 536.4v21.38M1423.5 535.6v23.09M1425.0 534.7v24.80M1426.5 533.9v26.51M1427.9 533.0v28.22M1429.4 532.2v29.94M1430.8 531.3v31.65M1432.3 530.4v33.36M1433.7 529.6v35.08M1435.2 528.7v36.79M1436.7 527.9v38.50" stroke="#9e22ac" stroke-width="16.70" stroke-linecap="round" fill="none"/>
<path d="M1443.6 503.5v87.30M1445.0 503.5v87.30M1446.3 503.5v87.30M1447.6 503.5v87.30M1448.9 503.5v87.30M1450.2 503.5v87.30" stroke="#9e22ac" stroke-width="16.70" stroke-linecap="round" fill="none"/>
<path d="M1455.3 547.1v0.01M1455.4 547.1v0.01" stroke="#9e22ac" stroke-width="16.70" stroke-linecap="round" fill="none"/>
<circle cx="1395.7" cy="531.7" r="8.35" fill="#008bfb"/>
<circle cx="1388.5" cy="540.6" r="8.00" fill="#008bfb"/>
<circle cx="1396.5" cy="549.6" r="7.00" fill="#9e22ac"/>
<circle cx="1157.3" cy="672.7" r="7.90" fill="#008bfb"/>
<path d="M1176.3 672.4v0.50M1177.8 672.4v0.50M1179.3 672.4v0.50M1180.8 672.4v0.50M1182.3 672.4v0.50M1183.8 672.4v0.50M1185.3 672.4v0.50M1186.8 672.4v0.50M1188.3 672.4v0.50M1189.8 672.4v0.50M1191.3 672.4v0.50M1192.8 672.4v0.50M1194.3 672.4v0.50M1195.8 672.4v0.50M1197.3 672.4v0.50M1198.7 672.4v0.50M1200.2 672.4v0.50M1201.7 672.4v0.50M1203.2 672.4v0.50M1204.7 672.4v0.50M1206.2 672.4v0.50M1207.7 672.4v0.50M1209.2 672.4v0.50M1210.7 672.4v0.50M1212.2 672.4v0.50M1213.7 672.4v0.50M1215.2 672.4v0.50M1216.7 672.4v0.50M1218.2 672.4v0.50M1219.6 672.4v0.50M1221.1 672.4v0.50M1222.6 672.4v0.50M1224.1 672.4v0.50M1225.6 672.4v0.50M1227.1 672.4v0.50M1228.6 672.4v0.50M1230.1 672.4v0.50M1231.6 672.4v0.50M1233.1 672.4v0.50M1234.6 672.4v0.50M1236.1 672.4v0.50M1237.6 672.4v0.50M1239.1 672.4v0.50M1240.5 672.4v0.50M1242.0 672.4v0.50M1243.5 672.4v0.50M1245.0 672.4v0.50M1246.5 672.4v0.50M1248.0 672.4v0.50M1249.5 672.4v0.50M1251.0 672.4v0.50M1252.5 672.4v0.50M1254.0 672.4v0.50M1255.5 672.4v0.50M1257.0 672.4v0.50M1258.5 672.4v0.50M1260.0 672.4v0.50M1261.4 672.4v0.50M1262.9 672.4v0.50M1264.4 672.4v0.50M1265.9 672.4v0.50M1267.4 672.4v0.50M1268.9 672.4v0.50M1270.4 672.4v0.50M1271.9 672.4v0.50M1273.4 672.4v0.50M1274.9 672.4v0.50M1276.4 672.4v0.50M1277.9 672.4v0.50M1279.4 672.4v0.50M1280.9 672.4v0.50M1282.4 672.4v0.50" stroke="#008bfb" stroke-width="16.70" stroke-linecap="round" fill="none"/>
<path d="M1176.3 671.0v3.30M1177.8 671.0v3.30M1179.3 671.0v3.30M1180.8 671.0v3.30M1182.2 671.0v3.30M1183.7 671.0v3.30M1185.2 671.0v3.30M1186.7 671.0v3.30" stroke="#008bfb" stroke-width="16.70" stroke-linecap="round" fill="none"/>
<path d="M1178.0 662.4v20.50M1178.1 662.4v20.50" stroke="#008bfb" stroke-width="16.70" stroke-linecap="round" fill="none"/>
<path d="M1186.0 664.2v17.00M1187.3 664.2v17.00M1188.7 664.2v17.00M1190.0 664.2v17.00M1191.3 664.2v17.00M1192.7 664.2v17.00M1194.0 664.2v17.00" stroke="#008bfb" stroke-width="12.00" stroke-linecap="round" fill="none"/>
<path d="M1197.6 627.2v90.90M1198.7 627.2v90.90M1199.7 627.2v90.90M1200.8 627.2v90.90" stroke="#008bfb" stroke-width="16.70" stroke-linecap="round" fill="none"/>
<path d="M1206.0 654.6v36.20M1207.4 654.6v36.20M1208.9 654.6v36.20M1210.3 654.6v36.20M1211.7 654.6v36.20M1213.1 654.6v36.20M1214.6 654.6v36.20M1216.0 654.6v36.20" stroke="#008bfb" stroke-width="12.00" stroke-linecap="round" fill="none"/>
<path d="M1220.9 636.0v73.30M1222.0 636.0v73.30M1223.1 636.0v73.30" stroke="#008bfb" stroke-width="16.70" stroke-linecap="round" fill="none"/>
<path d="M1229.0 653.0v39.40M1230.4 653.0v39.40M1231.9 653.0v39.40M1233.3 653.0v39.40M1234.8 653.0v39.40M1236.2 653.0v39.40M1237.7 653.0v39.40M1239.1 653.0v39.40M1240.6 653.0v39.40M1242.0 653.0v39.40M1243.5 653.0v39.40M1244.9 653.0v39.40" stroke="#008bfb" stroke-width="14.00" stroke-linecap="round" fill="none"/>
<path d="M1251.0 665.2v15.00M1252.5 665.2v15.00M1254.0 665.2v15.00M1255.5 665.2v15.00M1257.0 665.2v15.00M1258.5 665.2v15.00M1260.0 665.2v15.00M1261.5 665.2v15.00M1263.0 665.2v15.00M1264.5 665.2v15.00M1266.0 665.2v15.00M1267.5 665.2v15.00M1269.0 665.2v15.00" stroke="#008bfb" stroke-width="14.00" stroke-linecap="round" fill="none"/>
<path d="M1275.9 663.0v19.30M1276.1 663.0v19.30" stroke="#008bfb" stroke-width="16.70" stroke-linecap="round" fill="none"/>
<path d="M1280.3 670.0v5.30M1281.3 671.2v2.90M1282.4 672.4v0.50" stroke="#008bfb" stroke-width="16.70" stroke-linecap="round" fill="none"/>
<path d="M1379.6 672.0v1.30M1381.1 672.0v1.30M1382.6 672.0v1.30M1384.1 672.0v1.30M1385.6 672.0v1.30M1387.1 672.0v1.30M1388.6 672.0v1.30M1390.1 672.0v1.30M1391.6 672.0v1.30M1393.1 672.0v1.30M1394.6 672.0v1.30M1396.1 672.0v1.30M1397.6 672.0v1.30M1399.1 672.0v1.30M1400.6 672.0v1.30M1402.1 672.0v1.30M1403.6 672.0v1.30M1405.1 672.0v1.30M1406.6 672.0v1.30M1408.1 672.0v1.30M1409.6 672.0v1.30M1411.1 672.0v1.30M1412.6 672.0v1.30M1414.1 672.0v1.30M1415.6 672.0v1.30M1417.1 672.0v1.30M1418.6 672.0v1.30M1420.1 672.0v1.30M1421.6 672.0v1.30M1423.1 672.0v1.30M1424.6 672.0v1.30M1426.1 672.0v1.30M1427.6 672.0v1.30M1429.1 672.0v1.30M1430.6 672.0v1.30M1432.1 672.0v1.30M1433.6 672.0v1.30M1435.1 672.0v1.30M1436.6 672.0v1.30M1438.1 672.0v1.30M1439.6 672.0v1.30M1441.1 672.0v1.30M1442.6 672.0v1.30M1444.1 672.0v1.30M1445.6 672.0v1.30M1447.1 672.0v1.30M1448.6 672.0v1.30M1450.1 672.0v1.30M1451.6 672.0v1.30M1453.1 672.0v1.30M1454.6 672.0v1.30M1456.1 672.0v1.30M1457.6 672.0v1.30M1459.1 672.0v1.30M1460.6 672.0v1.30M1462.1 672.0v1.30M1463.6 672.0v1.30M1465.1 672.0v1.30M1466.6 672.0v1.30M1468.1 672.0v1.30M1469.6 672.0v1.30M1471.1 672.0v1.30M1472.6 672.0v1.30M1474.1 672.0v1.30M1475.6 672.0v1.30M1477.1 672.0v1.30M1478.6 672.0v1.30M1480.0 672.0v1.30M1481.5 672.0v1.30M1483.0 672.0v1.30M1484.5 672.0v1.30M1486.0 672.0v1.30M1487.5 672.0v1.30M1489.0 672.0v1.30M1490.5 672.0v1.30M1492.0 672.0v1.30M1493.5 672.0v1.30M1495.0 672.0v1.30M1496.5 672.0v1.30M1498.0 672.0v1.30M1499.5 672.0v1.30M1501.0 672.0v1.30M1502.5 672.0v1.30M1504.0 672.0v1.30M1505.5 672.0v1.30M1507.0 672.0v1.30M1508.5 672.0v1.30M1510.0 672.0v1.30M1511.5 672.0v1.30M1513.0 672.0v1.30M1514.5 672.0v1.30M1516.0 672.0v1.30M1517.5 672.0v1.30M1519.0 672.0v1.30M1520.5 672.0v1.30M1522.0 672.0v1.30M1523.5 672.0v1.30M1525.0 672.0v1.30M1526.5 672.0v1.30M1528.0 672.0v1.30M1529.5 672.0v1.30M1531.0 672.0v1.30M1532.5 672.0v1.30M1534.0 672.0v1.30M1535.5 672.0v1.30M1537.0 672.0v1.30M1538.5 672.0v1.30M1540.0 672.0v1.30M1541.5 672.0v1.30M1543.0 672.0v1.30M1544.5 672.0v1.30M1546.0 672.0v1.30M1547.5 672.0v1.30M1549.0 672.0v1.30M1550.5 672.0v1.30M1552.0 672.0v1.30M1553.5 672.0v1.30M1555.0 672.0v1.30M1556.5 672.0v1.30M1558.0 672.0v1.30M1559.5 672.0v1.30M1561.0 672.0v1.30M1562.5 672.0v1.30M1564.0 672.0v1.30M1565.5 672.0v1.30M1567.0 672.0v1.30M1568.5 672.0v1.30M1570.0 672.0v1.30M1571.5 672.0v1.30M1573.0 672.0v1.30M1574.5 672.0v1.30M1576.0 672.0v1.30M1577.5 672.0v1.30M1579.0 672.0v1.30" stroke="#ff0051" stroke-width="16.70" stroke-linecap="round" fill="none"/>
<path d="M1395.8 663.2v18.90M1395.9 663.2v18.90" stroke="#ff0051" stroke-width="16.70" stroke-linecap="round" fill="none"/>
<path d="M1402.0 665.3v14.80M1403.3 665.3v14.80M1404.7 665.3v14.80M1406.0 665.3v14.80M1407.3 665.3v14.80M1408.7 665.3v14.80M1410.0 665.3v14.80" stroke="#ff0051" stroke-width="12.00" stroke-linecap="round" fill="none"/>
<path d="M1415.3 663.2v18.90M1415.4 663.2v18.90" stroke="#ff0051" stroke-width="16.70" stroke-linecap="round" fill="none"/>
<path d="M1422.0 665.7v14.00M1423.5 665.8v13.77M1425.0 665.9v13.55M1426.5 666.0v13.32M1428.0 666.1v13.10M1429.5 666.2v12.88M1431.0 666.3v12.65M1432.5 666.4v12.43M1434.0 666.6v12.20M1435.5 666.7v11.97M1437.0 666.8v11.75M1438.5 666.9v11.52M1440.0 667.0v11.30M1441.5 667.1v11.07M1443.0 667.2v10.85M1444.5 667.3v10.62M1446.0 667.5v10.40" stroke="#ff0051" stroke-width="14.00" stroke-linecap="round" fill="none"/>
<path d="M1454.5 663.2v18.90M1454.6 663.2v18.90" stroke="#ff0051" stroke-width="16.70" stroke-linecap="round" fill="none"/>
<path d="M1461.0 663.7v18.00M1462.3 663.7v18.00M1463.7 663.7v18.00M1465.0 663.7v18.00" stroke="#ff0051" stroke-width="12.00" stroke-linecap="round" fill="none"/>
<path d="M1471.8 663.2v18.90" stroke="#ff0051" stroke-width="16.70" stroke-linecap="round" fill="none"/>
<path d="M1491.4 654.4v36.50M1492.6 654.4v36.50M1493.7 654.4v36.50M1494.9 654.4v36.50" stroke="#ff0051" stroke-width="16.70" stroke-linecap="round" fill="none"/>
<path d="M1504.3 663.2v18.90M1505.8 663.2v18.90M1507.2 663.2v18.90M1508.6 663.2v18.90M1510.1 663.2v18.90" stroke="#ff0051" stroke-width="16.70" stroke-linecap="round" fill="none"/>
<path d="M1522.0 668.7v8.00M1523.5 668.7v8.00M1525.0 668.7v8.00" stroke="#ff0051" stroke-width="12.00" stroke-linecap="round" fill="none"/>
<path d="M1533.4 660.7v23.90M1534.6 660.7v23.90M1535.7 660.7v23.90M1536.9 660.7v23.90" stroke="#ff0051" stroke-width="16.70" stroke-linecap="round" fill="none"/>
<path d="M1576.6 669.5v6.30M1576.7 669.5v6.30" stroke="#ff0051" stroke-width="16.70" stroke-linecap="round" fill="none"/>
<path d="M1146.8 784.6v27.30M1148.0 784.6v27.30M1149.2 784.6v27.30M1150.4 784.6v27.30" stroke="#008bfb" stroke-width="16.70" stroke-linecap="round" fill="none"/>
<path d="M1147.5 776.0v44.40M1148.6 776.0v44.40M1149.7 776.0v44.40" stroke="#008bfb" stroke-width="14.00" stroke-linecap="round" fill="none"/>
<path d="M1167.0 792.7v11.00M1168.3 792.7v11.00M1169.7 792.7v11.00M1171.1 792.7v11.00M1172.4 792.7v11.00" stroke="#008bfb" stroke-width="16.00" stroke-linecap="round" fill="none"/>
<path d="M1158.0 795.7v5.00M1159.5 795.7v5.00M1160.9 795.7v5.00M1162.4 795.7v5.00M1163.9 795.7v5.00M1165.4 795.7v5.00M1166.8 795.7v5.00M1168.3 795.7v5.00M1169.8 795.7v5.00M1171.3 795.7v5.00M1172.7 795.7v5.00M1174.2 795.7v5.00M1175.7 795.7v5.00M1177.2 795.7v5.00M1178.6 795.7v5.00M1180.1 795.7v5.00M1181.6 795.7v5.00M1183.1 795.7v5.00M1184.5 795.7v5.00M1186.0 795.7v5.00M1187.5 795.7v5.00M1188.9 795.7v5.00M1190.4 795.7v5.00M1191.9 795.7v5.00M1193.4 795.7v5.00M1194.8 795.7v5.00M1196.3 795.7v5.00M1197.8 795.7v5.00M1199.3 795.7v5.00M1200.7 795.7v5.00M1202.2 795.7v5.00M1203.7 795.7v5.00M1205.2 795.7v5.00M1206.6 795.7v5.00M1208.1 795.7v5.00M1209.6 795.7v5.00M1211.1 795.7v5.00M1212.5 795.7v5.00M1214.0 795.7v5.00" stroke="#008bfb" stroke-width="16.00" stroke-linecap="round" fill="none"/>
<path d="M1220.9 781.6v33.30M1222.1 781.6v33.30M1223.3 781.6v33.30M1224.5 781.6v33.30" stroke="#008bfb" stroke-width="16.70" stroke-linecap="round" fill="none"/>
<path d="M1221.6 772.7v51.00M1222.7 772.7v51.00M1223.8 772.7v51.00" stroke="#008bfb" stroke-width="14.00" stroke-linecap="round" fill="none"/>
<path d="M1260.2 796.1v4.30M1261.7 796.1v4.30M1263.0 796.1v4.30M1264.5 796.1v4.30M1265.9 796.1v4.30M1267.2 796.1v4.30M1268.7 796.1v4.30M1270.0 796.1v4.30M1271.5 796.1v4.30M1272.9 796.1v4.30M1274.2 796.1v4.30M1275.7 796.1v4.30" stroke="#008bfb" stroke-width="16.70" stroke-linecap="round" fill="none"/>
<path d="M1263.8 791.8v12.90M1265.2 791.8v12.90M1266.6 791.8v12.90M1268.0 791.8v12.90M1269.4 791.8v12.90M1270.8 791.8v12.90M1272.2 791.8v12.90" stroke="#008bfb" stroke-width="16.70" stroke-linecap="round" fill="none"/>
<path d="M1338.1 792.6v11.30M1338.9 791.1v14.14M1339.7 789.7v16.97M1340.4 788.3v19.81M1341.2 786.9v22.65M1342.0 785.5v25.48M1342.7 784.0v28.32M1343.5 782.6v31.15M1344.3 781.2v33.99M1345.0 779.8v36.83M1345.8 778.4v39.66M1346.6 777.0v42.50" stroke="#ff0051" stroke-width="16.70" stroke-linecap="round" fill="none"/>
<path d="M1346.5 777.0v42.50M1347.3 778.5v39.43M1348.1 780.0v36.37M1348.9 781.6v33.30" stroke="#ff0051" stroke-width="16.70" stroke-linecap="round" fill="none"/>
<path d="M1352.0 791.2v14.00M1353.5 791.2v14.00M1355.0 791.2v14.00M1356.5 791.2v14.00M1358.0 791.2v14.00M1359.5 791.2v14.00M1361.0 791.2v14.00" stroke="#ff0051" stroke-width="14.00" stroke-linecap="round" fill="none"/>
<path d="M1368.3 753.0v90.50M1369.4 753.0v90.50" stroke="#ff0051" stroke-width="16.70" stroke-linecap="round" fill="none"/>
<path d="M1375.0 785.7v25.00M1376.5 785.7v25.00M1378.0 785.7v25.00M1379.5 785.7v25.00M1381.0 785.7v25.00M1382.5 785.7v25.00M1384.0 785.7v25.00M1385.5 785.7v25.00M1387.0 785.7v25.00M1388.5 785.7v25.00M1390.0 785.7v25.00M1391.5 785.7v25.00M1393.0 785.7v25.00M1394.5 785.7v25.00M1396.0 785.7v25.00M1397.5 785.7v25.00M1399.0 785.7v25.00" stroke="#ff0051" stroke-width="14.00" stroke-linecap="round" fill="none"/>
<path d="M1407.2 771.1v54.30M1407.8 771.1v54.30" stroke="#ff0051" stroke-width="16.70" stroke-linecap="round" fill="none"/>
<path d="M1273.9 895.1v57.20M1275.4 895.1v57.20M1276.8 895.1v57.20M1278.3 895.1v57.20M1279.8 895.1v57.20M1281.3 895.1v57.20M1282.7 895.1v57.20M1284.2 895.1v57.20M1285.7 895.1v57.20M1287.2 895.1v57.20M1288.6 895.1v57.20M1290.1 895.1v57.20M1291.6 895.1v57.20M1293.1 895.1v57.20M1294.5 895.1v57.20M1296.0 895.1v57.20" stroke="#ff0051" stroke-width="8.00" stroke-linecap="round" fill="none"/>
<path d="M1297.9 876.9v93.60M1299.2 876.9v93.60M1300.4 876.9v93.60M1301.7 876.9v93.60M1303.0 876.9v93.60M1304.2 876.9v93.60M1305.5 876.9v93.60" stroke="#ff0051" stroke-width="14.00" stroke-linecap="round" fill="none"/>
<circle cx="1381.0" cy="923.7" r="8.60" fill="#ff0051"/>
<path d="M1317.0 923.7v0.01M1317.7 923.7v0.01" stroke="#008bfb" stroke-width="16.70" stroke-linecap="round" fill="none"/>
<path d="M1315.4 901.2v45.00M1316.7 901.2v45.00M1318.1 901.2v45.00M1319.4 901.2v45.00M1320.7 901.2v45.00M1322.0 901.2v45.00M1323.3 901.2v45.00M1324.7 901.2v45.00M1326.0 901.2v45.00" stroke="#008bfb" stroke-width="8.00" stroke-linecap="round" fill="none"/>
<path d="M1324.0 888.2v71.00M1325.4 888.2v71.00M1326.8 888.2v71.00M1328.2 888.2v71.00M1329.7 888.2v71.00M1331.1 888.2v71.00M1332.5 888.2v71.00M1333.9 888.2v71.00M1335.3 888.2v71.00M1336.8 888.2v71.00M1338.2 888.2v71.00M1339.6 888.2v71.00M1341.0 888.2v71.00" stroke="#008bfb" stroke-width="12.00" stroke-linecap="round" fill="none"/>
<path d="M1340.0 903.9v39.60M1341.4 903.9v39.60M1342.9 903.9v39.60M1344.3 903.9v39.60M1345.7 903.9v39.60M1347.2 903.9v39.60M1348.6 903.9v39.60M1350.0 903.9v39.60M1351.4 903.9v39.60M1352.9 903.9v39.60M1354.3 903.9v39.60" stroke="#008bfb" stroke-width="10.00" stroke-linecap="round" fill="none"/>
<path d="M1263.1 1048.8v0.90M1264.6 1048.8v0.90M1266.1 1048.8v0.90M1267.6 1048.8v0.90M1269.1 1048.8v0.90M1270.6 1048.8v0.90M1272.0 1048.8v0.90M1273.5 1048.8v0.90M1275.0 1048.8v0.90M1276.5 1048.8v0.90M1278.0 1048.8v0.90M1279.4 1048.8v0.90M1280.9 1048.8v0.90M1282.4 1048.8v0.90M1283.9 1048.8v0.90M1285.4 1048.8v0.90M1286.8 1048.8v0.90M1288.3 1048.8v0.90M1289.8 1048.8v0.90M1291.3 1048.8v0.90M1292.8 1048.8v0.90M1294.2 1048.8v0.90M1295.7 1048.8v0.90M1297.2 1048.8v0.90M1298.7 1048.8v0.90M1300.2 1048.8v0.90M1301.7 1048.8v0.90" stroke="#008bfb" stroke-width="16.70" stroke-linecap="round" fill="none"/>
<path d="M1281.8 1043.4v11.70" stroke="#008bfb" stroke-width="16.70" stroke-linecap="round" fill="none"/>
<linearGradient id="lg7" gradientUnits="userSpaceOnUse" x1="0" y1="996.3" x2="0" y2="1102.3"><stop offset="0.000" stop-color="#c8127f"/><stop offset="0.104" stop-color="#b5179e"/><stop offset="0.245" stop-color="#ad1ea6"/><stop offset="0.302" stop-color="#8a40c8"/><stop offset="0.406" stop-color="#8742c8"/><stop offset="0.575" stop-color="#9a30b8"/><stop offset="0.670" stop-color="#7a50d0"/><stop offset="0.764" stop-color="#6a5fd8"/><stop offset="0.896" stop-color="#7050d4"/><stop offset="1.000" stop-color="#8a40c8"/></linearGradient>
<path d="M1310.9 1004.3h1.88M1309.9 1005.8h3.71M1309.4 1007.3h4.87M1308.9 1008.8h5.76M1308.5 1010.3h6.51M1308.2 1011.8h7.16M1307.9 1013.3h7.73M1307.7 1014.8h8.23M1307.5 1016.3h8.69M1307.2 1017.8h9.11M1307.1 1019.3h9.49M1306.9 1020.8h9.84M1306.7 1022.3h10.16M1306.6 1023.8h10.46M1306.4 1025.3h10.72M1306.3 1026.8h10.97M1306.2 1028.3h11.20M1306.1 1029.8h11.40M1306.0 1031.3h11.59M1305.9 1032.8h11.76M1305.8 1034.3h11.92M1305.8 1035.8h12.05M1305.7 1037.3h12.17M1305.7 1038.8h12.28M1305.6 1040.3h12.37M1305.6 1041.8h12.45M1305.5 1043.3h12.51M1305.5 1044.8h12.56M1305.5 1046.3h12.59M1305.5 1047.8h12.61M1305.5 1049.3h12.62M1305.5 1050.8h12.61M1305.5 1052.3h12.59M1305.5 1053.8h12.56M1305.5 1055.3h12.51M1305.6 1056.8h12.45M1305.6 1058.3h12.37M1305.7 1059.8h12.28M1305.7 1061.3h12.17M1305.8 1062.8h12.05M1305.8 1064.3h11.92M1305.9 1065.8h11.76M1306.0 1067.3h11.59M1306.1 1068.8h11.40M1306.2 1070.3h11.20M1306.3 1071.8h10.97M1306.4 1073.3h10.72M1306.6 1074.8h10.46M1306.7 1076.3h10.16M1306.9 1077.8h9.84M1307.1 1079.3h9.49M1307.2 1080.8h9.11M1307.5 1082.3h8.69M1307.7 1083.8h8.23M1307.9 1085.3h7.73M1308.2 1086.8h7.16M1308.5 1088.3h6.51M1308.9 1089.8h5.76M1309.4 1091.3h4.87M1309.9 1092.8h3.71M1310.9 1094.3h1.88" stroke="url(#lg7)" stroke-width="16.70" stroke-linecap="round" fill="none"/>
<circle cx="1320.8" cy="1028.3" r="6.50" fill="#c8108c"/>
<circle cx="1318.0" cy="1016.3" r="7.00" fill="#c2109a"/>
<circle cx="1304.5" cy="1080.3" r="7.50" fill="#e8106a"/>
<circle cx="1314.0" cy="1080.3" r="8.20" fill="#6a5fd8"/>
<circle cx="1313.0" cy="1088.3" r="7.50" fill="#7454d4"/>
<path d="M1298.3 1048.8v0.90M1299.8 1048.8v0.90M1301.3 1048.8v0.90M1302.8 1048.8v0.90M1304.3 1048.8v0.90M1305.8 1048.8v0.90M1307.3 1048.8v0.90M1308.8 1048.8v0.90M1310.3 1048.8v0.90M1311.8 1048.8v0.90M1313.2 1048.8v0.90M1314.7 1048.8v0.90M1316.2 1048.8v0.90M1317.7 1048.8v0.90M1319.2 1048.8v0.90M1320.7 1048.8v0.90M1322.2 1048.8v0.90M1323.7 1048.8v0.90M1325.2 1048.8v0.90M1326.6 1048.8v0.90M1328.1 1048.8v0.90M1329.6 1048.8v0.90M1331.1 1048.8v0.90M1332.6 1048.8v0.90M1334.1 1048.8v0.90M1335.6 1048.8v0.90M1337.1 1048.8v0.90M1338.6 1048.8v0.90M1340.0 1048.8v0.90M1341.5 1048.8v0.90M1343.0 1048.8v0.90M1344.5 1048.8v0.90M1346.0 1048.8v0.90M1347.5 1048.8v0.90M1349.0 1048.8v0.90M1350.5 1048.8v0.90M1352.0 1048.8v0.90M1353.4 1048.8v0.90M1354.9 1048.8v0.90M1356.4 1048.8v0.90M1357.9 1048.8v0.90M1359.4 1048.8v0.90M1360.9 1048.8v0.90M1362.4 1048.8v0.90M1363.9 1048.8v0.90M1365.4 1048.8v0.90M1366.8 1048.8v0.90M1368.3 1048.8v0.90M1369.8 1048.8v0.90M1371.3 1048.8v0.90M1372.8 1048.8v0.90M1374.3 1048.8v0.90M1375.8 1048.8v0.90M1377.3 1048.8v0.90M1378.8 1048.8v0.90M1380.2 1048.8v0.90M1381.7 1048.8v0.90M1383.2 1048.8v0.90M1384.7 1048.8v0.90M1386.2 1048.8v0.90M1387.7 1048.8v0.90M1389.2 1048.8v0.90M1390.7 1048.8v0.90M1392.2 1048.8v0.90M1393.7 1048.8v0.90" stroke="#008bfb" stroke-width="16.70" stroke-linecap="round" fill="none"/>
<path d="M1322.3 1042.6v13.30M1323.8 1042.6v13.30M1325.3 1042.6v13.30M1326.8 1042.6v13.30M1328.2 1042.6v13.30M1329.7 1042.6v13.30M1331.2 1042.6v13.30M1332.7 1042.6v13.30" stroke="#0585f5" stroke-width="16.70" stroke-linecap="round" fill="none"/>
<path d="M1330.3 1037.1v24.30M1331.8 1037.1v24.30M1333.3 1037.1v24.30M1334.8 1037.1v24.30M1336.2 1037.1v24.30" stroke="#0585f5" stroke-width="16.70" stroke-linecap="round" fill="none"/>
<circle cx="1304.6" cy="1052.0" r="6.50" fill="#ff0051"/>
<circle cx="1310.3" cy="1059.0" r="7.50" fill="#c0009c"/>
<circle cx="1302.5" cy="1064.3" r="6.50" fill="#9a38c0"/>
<circle cx="1317.5" cy="1069.3" r="7.50" fill="#1a80f0"/>
<circle cx="1310.0" cy="1072.3" r="3.50" fill="#d01078"/>
<circle cx="1418.3" cy="1049.3" r="7.90" fill="#008bfb"/>
<circle cx="1465.0" cy="1049.3" r="8.60" fill="#008bfb"/>
<circle cx="1483.9" cy="1049.3" r="7.90" fill="#008bfb"/>
<path d="M1275.0 1169.3v11.00M1276.5 1169.3v11.00M1278.0 1169.3v11.00M1279.5 1169.3v11.00" stroke="#008bfb" stroke-width="16.00" stroke-linecap="round" fill="none"/>
<path d="M1301.9 1172.4v4.80M1303.4 1172.4v4.80M1304.8 1172.4v4.80M1306.3 1172.4v4.80M1307.7 1172.4v4.80M1309.2 1172.4v4.80M1310.7 1172.4v4.80M1312.1 1172.4v4.80M1313.6 1172.4v4.80M1315.0 1172.4v4.80M1316.5 1172.4v4.80M1318.0 1172.4v4.80M1319.4 1172.4v4.80M1320.9 1172.4v4.80M1322.3 1172.4v4.80M1323.8 1172.4v4.80M1325.2 1172.4v4.80M1326.7 1172.4v4.80M1328.2 1172.4v4.80M1329.6 1172.4v4.80M1331.1 1172.4v4.80M1332.5 1172.4v4.80M1334.0 1172.4v4.80M1335.5 1172.4v4.80M1336.9 1172.4v4.80M1338.4 1172.4v4.80M1339.8 1172.4v4.80M1341.3 1172.4v4.80M1342.8 1172.4v4.80M1344.2 1172.4v4.80M1345.7 1172.4v4.80M1347.1 1172.4v4.80M1348.6 1172.4v4.80" stroke="#008bfb" stroke-width="16.00" stroke-linecap="round" fill="none"/>
<path d="M1316.6 1128.3V1221.3" stroke="#7ab9f8" stroke-width="20.00" stroke-linecap="round" fill="none"/>
<path d="M1317.8 1128.0V1221.6" stroke="#008bfb" stroke-width="17.40" stroke-linecap="round" fill="none"/>
<circle cx="1316.4" cy="1155.1" r="7.60" fill="#ff0051"/>
<circle cx="1316.4" cy="1208.3" r="7.60" fill="#ff0051"/>
<circle cx="1316.4" cy="1198.8" r="8.50" fill="#008bfb"/>
<circle cx="1316.6" cy="1215.8" r="7.50" fill="#4a68e4"/>
<path d="M1098.6 1299.0v2.70M1099.7 1299.0v2.70M1100.7 1299.0v2.70M1101.8 1299.0v2.70" stroke="#008bfb" stroke-width="16.70" stroke-linecap="round" fill="none"/>
<path d="M1122.8 1299.0v2.70M1123.8 1299.0v2.70" stroke="#008bfb" stroke-width="16.70" stroke-linecap="round" fill="none"/>
<path d="M1140.0 1299.2v2.30M1140.1 1299.2v2.30" stroke="#008bfb" stroke-width="16.70" stroke-linecap="round" fill="none"/>
<path d="M1127.0 1299.9v1.00M1128.3 1299.9v1.00M1129.7 1299.9v1.00M1131.0 1299.9v1.00M1132.3 1299.9v1.00M1133.7 1299.9v1.00M1135.0 1299.9v1.00" stroke="#008bfb" stroke-width="14.00" stroke-linecap="round" fill="none"/>
<path d="M1164.3 1299.9v0.90M1165.8 1299.9v0.90M1167.3 1299.9v0.90M1168.7 1299.9v0.90M1170.2 1299.9v0.90M1171.7 1299.9v0.90M1173.1 1299.9v0.90M1174.6 1299.9v0.90M1176.1 1299.9v0.90M1177.5 1299.9v0.90M1179.0 1299.9v0.90M1180.4 1299.9v0.90M1181.9 1299.9v0.90M1183.4 1299.9v0.90M1184.8 1299.9v0.90M1186.3 1299.9v0.90M1187.8 1299.9v0.90M1189.2 1299.9v0.90M1190.7 1299.9v0.90M1192.2 1299.9v0.90" stroke="#008bfb" stroke-width="16.70" stroke-linecap="round" fill="none"/>
<path d="M1164.8 1299.0v2.70M1166.2 1299.0v2.70M1167.7 1299.0v2.70" stroke="#008bfb" stroke-width="16.70" stroke-linecap="round" fill="none"/>
<path d="M1180.3 1298.7v3.30M1181.8 1298.7v3.30M1183.3 1298.7v3.30M1184.8 1298.7v3.30M1186.2 1298.7v3.30M1187.7 1298.7v3.30M1189.2 1298.7v3.30M1190.7 1298.7v3.30M1192.2 1298.7v3.30" stroke="#008bfb" stroke-width="16.70" stroke-linecap="round" fill="none"/>
<circle cx="1222.8" cy="1300.4" r="8.80" fill="#008bfb"/>
<path d="M1316.0 1255.9V1343.4" stroke="#e02070" stroke-width="20.00" stroke-linecap="round" fill="none"/>
<path d="M1315.2 1254.6V1344.7" stroke="#ff0051" stroke-width="18.00" stroke-linecap="round" fill="none"/>
<circle cx="1315.3" cy="1337.4" r="7.20" fill="#008bfb"/>
<circle cx="1315.3" cy="1332.4" r="8.20" fill="#ff0051"/>
<circle cx="1329.8" cy="1425.9" r="8.35" fill="#008bfb"/>
<path d="M1313.0 1381.4V1469.4" stroke="#e0206c" stroke-width="20.40" stroke-linecap="round" fill="none"/>
<path d="M1314.4 1380.3V1470.9" stroke="#ff0051" stroke-width="17.60" stroke-linecap="round" fill="none"/>
<circle cx="1313.6" cy="1381.6" r="8.40" fill="#7a3cb4"/>
<circle cx="1313.6" cy="1382.2" r="7.40" fill="#008bfb"/>
<circle cx="1313.0" cy="1449.9" r="7.60" fill="#008bfb"/>
<circle cx="1313.0" cy="1455.4" r="8.30" fill="#ff0051"/>
<circle cx="1329.8" cy="1551.4" r="8.35" fill="#008bfb"/>
<path d="M1313.0 1506.9V1595.4" stroke="#e0206c" stroke-width="20.40" stroke-linecap="round" fill="none"/>
<path d="M1314.4 1506.0V1596.4" stroke="#ff0051" stroke-width="17.60" stroke-linecap="round" fill="none"/>
<circle cx="1313.6" cy="1508.9" r="7.80" fill="#9e22ac"/>
<circle cx="1313.6" cy="1596.9" r="8.30" fill="#3a62d8"/>
<circle cx="1313.6" cy="1595.9" r="7.20" fill="#008bfb"/>
<circle cx="1313.6" cy="1587.9" r="8.30" fill="#ff0051"/>
<path d="M1313.0 1632.5V1722.0" stroke="#9a38bc" stroke-width="20.40" stroke-linecap="round" fill="none"/>
<path d="M1314.2 1632.0V1723.5" stroke="#9434b8" stroke-width="17.60" stroke-linecap="round" fill="none"/>
<circle cx="1313.6" cy="1632.0" r="8.30" fill="#e6006e"/>
<circle cx="1313.6" cy="1638.5" r="8.00" fill="#6060dc"/>
<circle cx="1313.6" cy="1653.0" r="7.50" fill="#c01590"/>
<circle cx="1313.6" cy="1663.5" r="8.00" fill="#a81eaa"/>
<circle cx="1313.6" cy="1674.0" r="6.00" fill="#f00060"/>
<circle cx="1313.6" cy="1679.0" r="7.80" fill="#4169e8"/>
<circle cx="1313.6" cy="1686.5" r="7.40" fill="#008bfb"/>
<circle cx="1313.6" cy="1725.0" r="8.20" fill="#8040c8"/>
<circle cx="1313.6" cy="1713.5" r="8.20" fill="#c2009a"/>
<circle cx="1313.6" cy="1698.0" r="8.00" fill="#b40aa0"/>
</g>
<path d="M501.8 1802.5H1968" stroke="#000000" stroke-width="4.4" fill="none"/>
<g stroke="#333333" stroke-width="4" fill="none">
<path d="M511.5 1804V1817.8"/>
<path d="M712.0 1804V1817.8"/>
<path d="M912.5 1804V1817.8"/>
<path d="M1113.0 1804V1817.8"/>
<path d="M1313.5 1804V1817.8"/>
<path d="M1514.0 1804V1817.8"/>
<path d="M1714.5 1804V1817.8"/>
<path d="M1915.0 1804V1817.8"/>
</g>
<g fill="#333333" font-size="45.83" text-anchor="middle">
<text x="511.5" y="1866.8">−2.0</text>
<text x="712.0" y="1866.8">−1.5</text>
<text x="912.5" y="1866.8">−1.0</text>
<text x="1113.0" y="1866.8">−0.5</text>
<text x="1313.5" y="1866.8">0.0</text>
<text x="1514.0" y="1866.8">0.5</text>
<text x="1714.5" y="1866.8">1.0</text>
<text x="1915.0" y="1866.8">1.5</text>
</g>
<text x="1234.6" y="1933.9" font-size="54.17" fill="#000000" text-anchor="middle">SHAP value (impact on model output)</text>
<g fill="#333333" font-size="54.17" text-anchor="end">
<text x="406.5" y="190.9">calcification</text>
<text x="406.5" y="316.4">multilateral</text>
<text x="406.5" y="442.0">shape</text>
<text x="406.5" y="567.5">site</text>
<text x="406.5" y="693.1">blood_flow</text>
<text x="406.5" y="818.6">margin</text>
<text x="406.5" y="944.1">multifocality</text>
<text x="406.5" y="1069.7">size</text>
<text x="406.5" y="1195.2">TGAb</text>
<text x="406.5" y="1320.8">composition</text>
<text x="406.5" y="1446.3">gender</text>
<text x="406.5" y="1571.8">echo_strength</text>
<text x="406.5" y="1697.4">FT3</text>
</g>
<rect x="2058" y="43.8" width="22" height="1760" fill="url(#cb)"/>
<g fill="#000000" font-size="45.83">
<text x="2094" y="61">High</text>
<text x="2094" y="1819.8">Low</text>
</g>
<text transform="translate(2237.3 924.5) rotate(-90)" font-size="50" fill="#000000" text-anchor="middle">Feature value</text>
</svg>
</body></html>
